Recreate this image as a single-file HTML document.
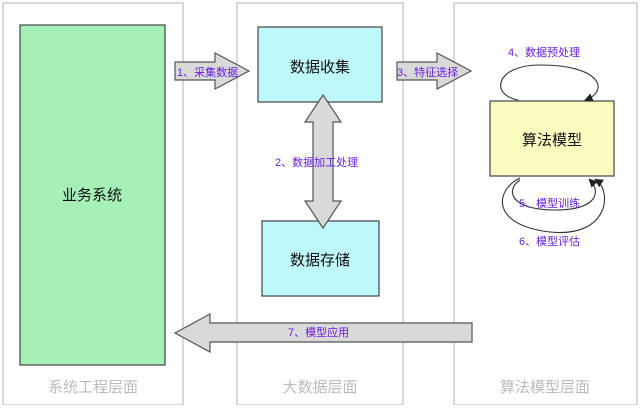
<!DOCTYPE html>
<html><head><meta charset="utf-8"><style>
body{margin:0;background:#fff;width:640px;height:405px;overflow:hidden}
svg text{font-family:"Liberation Sans","Noto Sans CJK SC",sans-serif}
</style></head><body>
<svg width="640" height="405" viewBox="0 0 640 405">
<defs><marker id="ah" markerWidth="8" markerHeight="8" refX="6" refY="4" orient="auto"><path d="M0,0 L8,4 L0,8z" fill="#222"/></marker></defs>
<g fill="#fff" stroke="#bdbdbd" stroke-width="1.2">
<rect x="3" y="3" width="180" height="402"/>
<rect x="237" y="3" width="166" height="402"/>
<rect x="454" y="3" width="183" height="402"/>
</g>
<g fill="#bbb" font-size="15" text-anchor="middle">
<text x="93" y="392">系统工程层面</text>
<text x="320" y="392">大数据层面</text>
<text x="545" y="392">算法模型层面</text>
</g>
<rect x="20" y="25" width="145" height="340" fill="#a6f0b8" stroke="#444" stroke-width="1.2"/>
<text x="92" y="200" font-size="15" text-anchor="middle" fill="#111">业务系统</text>
<rect x="258" y="27" width="124" height="75" fill="#bff8fb" stroke="#444" stroke-width="1.2"/>
<text x="320" y="72" font-size="15" text-anchor="middle" fill="#111">数据收集</text>
<rect x="262" y="221" width="117" height="75" fill="#bff8fb" stroke="#444" stroke-width="1.2"/>
<text x="320" y="265" font-size="15" text-anchor="middle" fill="#111">数据存储</text>
<rect x="490" y="101" width="124" height="75" fill="#fafcc0" stroke="#444" stroke-width="1.2"/>
<text x="552" y="145" font-size="15" text-anchor="middle" fill="#111">算法模型</text>
<g fill="#d9d9d9" stroke="#555" stroke-width="1.2">
<path d="M175,62 H215 V53 L249,71 L215,89 V80 H175z"/>
<path d="M397,62 H437 V53 L471,71 L437,89 V80 H397z"/>
<path d="M323,95 L341,122 H333 V201 H341 L323,228 L305,201 H313 V122 H305z"/>
<path d="M472,323 H210 V314 L175,333 L210,352 V342 H472z"/>
</g>
<g fill="none" stroke="#333" stroke-width="1.1">
<path d="M518,100 C490,95 495,65 540,65 C600,65 610,90 586,100" marker-end="url(#ah)"/>
<path d="M520,180 C505,190 510,210 555,210 C600,210 600,190 590,180" marker-end="url(#ah)"/>
<path d="M520,178 C495,190 490,225 550,232 C610,238 612,190 596,180" marker-end="url(#ah)"/>
</g>
<g fill="#6a1ee0" font-size="11">
<text x="177" y="76">1、采集数据</text>
<text x="397" y="76">3、特征选择</text>
<text x="275" y="166">2、数据加工处理</text>
<text x="508" y="56">4、数据预处理</text>
<text x="519" y="207">5、模型训练</text>
<text x="519" y="245">6、模型评估</text>
<text x="288" y="336">7、模型应用</text>
</g>
</svg>
</body></html>
